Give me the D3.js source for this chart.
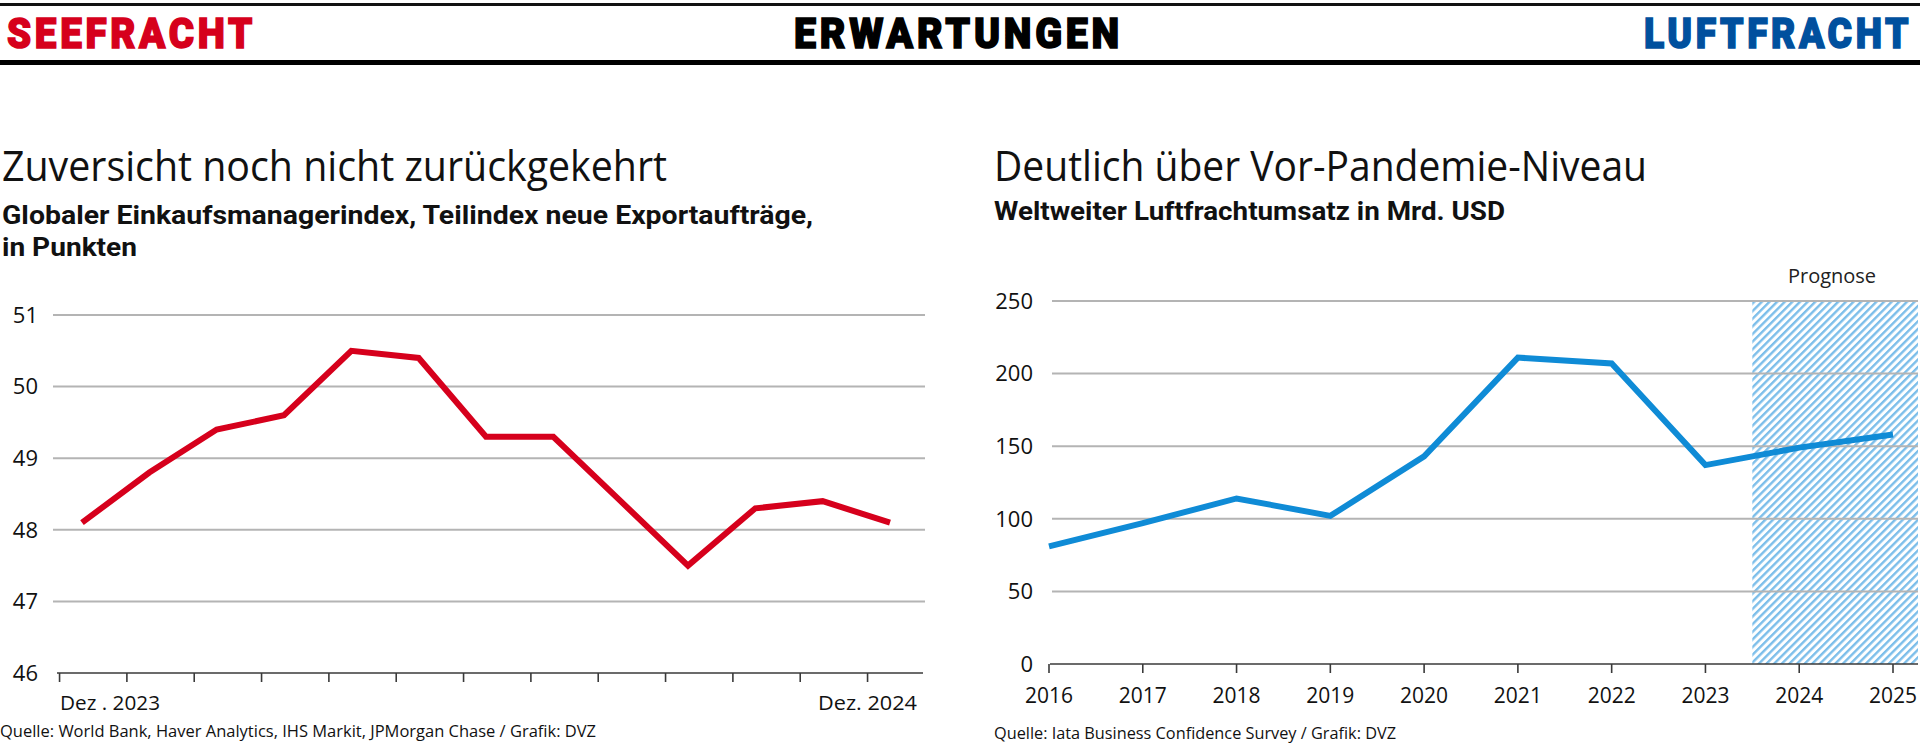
<!DOCTYPE html>
<html><head><meta charset="utf-8">
<script src="https://cdn.jsdelivr.net/npm/d3@7"></script>
<style>html,body{margin:0;padding:0;background:#fff;}svg{display:block;}</style>
</head><body>
<svg id="c" width="1920" height="745"></svg>
<script>
// ---- data ----
const months = ["Dez 2023","Jan","Feb","Mär","Apr","Mai","Jun","Jul","Aug","Sep","Okt","Nov","Dez 2024"];
const pmiValues = [48.1, 48.8, 49.4, 49.6, 50.5, 50.4, 49.3, 49.3, 48.4, 47.5, 48.3, 48.4, 48.1];
const pmiTicks = [46, 47, 48, 49, 50, 51];
const monthLabels = ["Dez . 2023", "Dez. 2024"];

const years = [2016, 2017, 2018, 2019, 2020, 2021, 2022, 2023, 2024, 2025];
const revenueValues = [81, 97, 114, 102, 143, 211, 207, 137, 149, 158];
const revenueTicks = [0, 50, 100, 150, 200, 250];
const forecastYears = [2024, 2025];

const svg = d3.select("#c");
const RED = "#d6001c", BLUE = "#0f8bd6", DBLUE = "#00509e";
const GRID = "#b4b4b4", AXIS = "#3a3a3a";
const FONT = "'Open Sans', 'Noto Sans', sans-serif";
const BOLD = "Roboto, 'Noto Sans', sans-serif";

// ---- header ----
svg.append("rect").attr("x",0).attr("y",3).attr("width",1920).attr("height",3).attr("fill","#111");
svg.append("rect").attr("x",0).attr("y",60).attr("width",1920).attr("height",5).attr("fill","#000");
function head(txt, x, color, len){
  svg.append("text").attr("x",x).attr("y",48).attr("text-anchor","start")
    .attr("font-family",BOLD).attr("font-weight",900).attr("font-size",42)
    .attr("letter-spacing",4)
    .attr("fill",color).attr("stroke",color).attr("stroke-width",1.5)
    .attr("textLength",len).attr("lengthAdjust","spacingAndGlyphs").text(txt);
}
head("SEEFRACHT", 7, RED, 249);
head("ERWARTUNGEN", 794, "#000", 329);
head("LUFTFRACHT", 1644, DBLUE, 268);

// ---- titles ----
function txt(t, x, y, opts){
  const e = svg.append("text").attr("x",x).attr("y",y)
    .attr("font-family",opts.family||FONT).attr("font-size",opts.size)
    .attr("font-weight",opts.weight||400).attr("fill",opts.fill||"#111")
    .attr("text-anchor",opts.anchor||"start").text(t);
  if (opts.len) e.attr("textLength",opts.len).attr("lengthAdjust","spacingAndGlyphs");
  return e;
}
txt("Zuversicht noch nicht zurückgekehrt", 2, 181, {size:42, len:665});
txt("Globaler Einkaufsmanagerindex, Teilindex neue Exportaufträge,", 2, 224, {size:26, weight:700, family:BOLD, len:811});
txt("in Punkten", 2, 256, {size:26, weight:700, family:BOLD, len:135});
txt("Deutlich über Vor-Pandemie-Niveau", 994, 181, {size:42, len:653});
txt("Weltweiter Luftfrachtumsatz in Mrd. USD", 994, 220, {size:26, weight:700, family:BOLD, len:511});

// ---- left chart ----
const yL = d3.scaleLinear().domain([46, 51]).range([673, 315]);
const xL = d3.scalePoint().domain(months).range([82, 890]);
const gL = svg.append("g");
gL.selectAll("line.grid").data(pmiTicks.filter(d => d > 46)).join("line")
  .attr("x1",53).attr("x2",925).attr("y1",d=>yL(d)).attr("y2",d=>yL(d))
  .attr("stroke",GRID).attr("stroke-width",2);
gL.append("line").attr("x1",57).attr("x2",923).attr("y1",yL(46)).attr("y2",yL(46))
  .attr("stroke",AXIS).attr("stroke-width",1.6);
const stepL = xL.step();
gL.selectAll("line.tick").data(months).join("line")
  .attr("x1",d=>xL(d)-stepL/3).attr("x2",d=>xL(d)-stepL/3)
  .attr("y1",yL(46)).attr("y2",yL(46)+9).attr("stroke",AXIS).attr("stroke-width",1.6);
gL.selectAll("text.yl").data(pmiTicks).join("text")
  .attr("x",38).attr("y",d=>yL(d)).attr("dy","0.35em").attr("text-anchor","end")
  .attr("font-family",FONT).attr("font-size",22).attr("fill","#111").text(d=>d);
txt(monthLabels[0], 60, 710, {size:20, len:100});
txt(monthLabels[1], 917, 710, {size:20, anchor:"end", len:99});
gL.append("path").datum(pmiValues)
  .attr("d", d3.line().x((d,i)=>xL(months[i])).y(d=>yL(d)))
  .attr("fill","none").attr("stroke",RED).attr("stroke-width",6).attr("stroke-linejoin","miter");

// ---- right chart ----
const yR = d3.scaleLinear().domain([0, 250]).range([664, 301]);
const xR = d3.scalePoint().domain(years).range([1049, 1893]);
const gR = svg.append("g");
const defs = svg.append("defs");
const pat = defs.append("pattern").attr("id","hatch").attr("patternUnits","userSpaceOnUse")
  .attr("width",5.4).attr("height",10).attr("patternTransform","rotate(45)");
pat.append("line").attr("x1",1.2).attr("x2",1.2).attr("y1",0).attr("y2",10)
  .attr("stroke","#7cbeea").attr("stroke-width",2.4);
const hx0 = (xR(2023) + xR(forecastYears[0])) / 2;
gR.append("rect").attr("x",hx0).attr("y",yR(250)).attr("width",1918-hx0).attr("height",yR(0)-yR(250))
  .attr("fill","url(#hatch)");
gR.selectAll("line.grid").data(revenueTicks.filter(d => d > 0)).join("line")
  .attr("x1",1052).attr("x2",1918).attr("y1",d=>yR(d)).attr("y2",d=>yR(d))
  .attr("stroke",GRID).attr("stroke-width",2);
gR.append("line").attr("x1",1050).attr("x2",1918).attr("y1",yR(0)).attr("y2",yR(0))
  .attr("stroke",AXIS).attr("stroke-width",1.6);
gR.selectAll("line.tick").data(years).join("line")
  .attr("x1",d=>xR(d)).attr("x2",d=>xR(d)).attr("y1",yR(0)).attr("y2",yR(0)+9)
  .attr("stroke",AXIS).attr("stroke-width",1.6);
gR.selectAll("text.yl").data(revenueTicks).join("text")
  .attr("x",1033).attr("y",d=>yR(d)).attr("dy","0.35em").attr("text-anchor","end")
  .attr("font-family",FONT).attr("font-size",22).attr("fill","#111").text(d=>d);
gR.selectAll("text.xl").data(years).join("text")
  .attr("x",d=>xR(d)).attr("y",703).attr("text-anchor","middle")
  .attr("font-family",FONT).attr("font-size",21).attr("fill","#111").text(d=>d);
txt("Prognose", 1832, 283, {size:20, anchor:"middle", fill:"#222"});
gR.append("path").datum(revenueValues)
  .attr("d", d3.line().x((d,i)=>xR(years[i])).y(d=>yR(d)))
  .attr("fill","none").attr("stroke",BLUE).attr("stroke-width",6).attr("stroke-linejoin","miter");

// ---- sources ----
txt("Quelle: World Bank, Haver Analytics, IHS Markit, JPMorgan Chase / Grafik: DVZ", 0, 737, {size:16, len:596});
txt("Quelle: Iata Business Confidence Survey / Grafik: DVZ", 994, 739, {size:16, len:402});
</script>
</body></html>
